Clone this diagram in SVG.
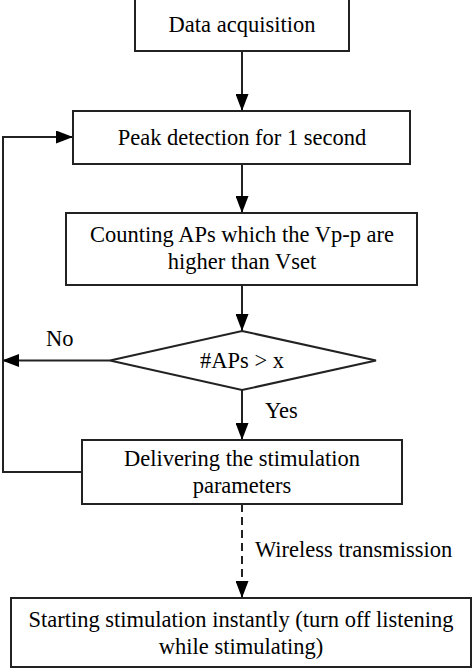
<svg xmlns="http://www.w3.org/2000/svg" width="474" height="669" viewBox="0 0 474 669">
<defs>
<marker id="ah" markerUnits="userSpaceOnUse" markerWidth="17" markerHeight="13" refX="17" refY="6.5" orient="auto">
<path d="M0,0 L17,6.5 L0,13 Z" fill="#000"/>
</marker>
<style>
.box{fill:#fff;stroke:#222;stroke-width:2}
.t{font-family:"Liberation Serif","Times New Roman",serif;font-size:22.5px;fill:#000;text-anchor:middle}
.l{font-family:"Liberation Serif","Times New Roman",serif;font-size:22.5px;fill:#000}
.c{fill:none;stroke:#222;stroke-width:2}
</style>
</defs>
<rect width="474" height="669" fill="#fff"/>
<g id="connectors">
<line class="c" x1="242" y1="51" x2="242" y2="111" marker-end="url(#ah)"/>
<line class="c" x1="242" y1="164" x2="242" y2="213" marker-end="url(#ah)"/>
<line class="c" x1="242" y1="285" x2="242" y2="331" marker-end="url(#ah)"/>
<line class="c" x1="110" y1="360.5" x2="2" y2="360.5" marker-end="url(#ah)"/>
<line class="c" x1="242" y1="390" x2="242" y2="440" marker-end="url(#ah)"/>
<polyline class="c" points="82,472 3,472 3,137 73,137" marker-end="url(#ah)"/>
<line class="c" x1="242" y1="504" x2="242" y2="598" stroke-dasharray="8,5" marker-end="url(#ah)"/>
<text class="l" x="46" y="346">No</text>
<text class="l" x="265" y="418">Yes</text>
<text class="l" x="255" y="557">Wireless transmission</text>
</g>
<g id="n1">
<rect class="box" x="135" y="-1" width="214" height="52"/>
<text class="t" x="242" y="32">Data acquisition</text>
</g>
<g id="n2">
<rect class="box" x="73" y="111" width="337" height="53"/>
<text class="t" x="242" y="145">Peak detection for 1 second</text>
</g>
<g id="n3">
<rect class="box" x="66" y="213" width="351" height="72"/>
<text class="t" x="242" y="242">Counting APs which the Vp-p are</text>
<text class="t" x="242" y="269">higher than Vset</text>
</g>
<g id="n4">
<polygon class="box" points="242,331 376,360.5 242,390 110,360.5"/>
<text class="t" x="242" y="368">#APs &gt; x</text>
</g>
<g id="n5">
<rect class="box" x="82" y="440" width="320" height="64"/>
<text class="t" x="242" y="466">Delivering the stimulation</text>
<text class="t" x="242" y="493">parameters</text>
</g>
<g id="n6">
<rect class="box" x="11" y="598" width="460" height="69"/>
<text class="t" x="241" y="627">Starting stimulation instantly (turn off listening</text>
<text class="t" x="241" y="654">while stimulating)</text>
</g>
</svg>
